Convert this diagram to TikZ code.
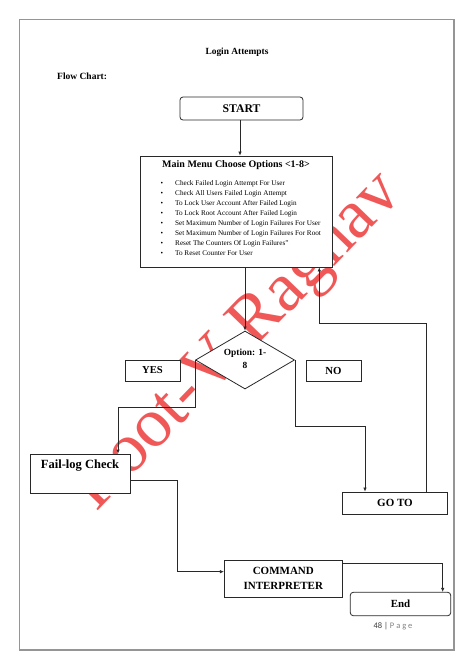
\documentclass[tikz,border=0pt]{standalone}
\usepackage{fontspec}
\setmainfont{Liberation Serif}
\newfontfamily\calib{Carlito}
\usetikzlibrary{shapes.geometric,arrows.meta,calc}
\definecolor{wm}{RGB}{240,88,88}
\definecolor{ln}{RGB}{40,40,40}
\definecolor{pg}{RGB}{130,130,130}
\begin{document}
\begin{tikzpicture}[x=1pt,y=-1pt,
  box/.style={draw=ln,line width=0.8pt,fill=white,inner sep=0pt},
  rbox/.style={box,rounded corners=3pt},
  arr/.style={draw=ln,line width=0.7pt,-{Latex[length=4pt,width=3.5pt]}},
  lab/.style={font=\bfseries\fontsize{#1}{#1}\selectfont,inner sep=0pt},
  itm/.style={font=\fontsize{7.2}{8}\selectfont,inner sep=0pt,anchor=base west}]
\useasboundingbox (0,0) rectangle (474,670);
\fill[white] (0,0) rectangle (474,670);
% watermark
\node[rotate=46,text=wm,font=\fontsize{70}{70}\selectfont,inner sep=0pt] (wmark) at (238,342) {Root-V Raghav};
% page frame
\draw[draw=pg!85,line width=1.5pt] (19.5,19.5) rectangle (454,650);
\node[lab=9.4] (title) at (237,52) {Login Attempts};
\node[lab=9.5,anchor=west] (fc) at (57,76) {Flow Chart:};
% boxes
\node[rbox,minimum width=123pt,minimum height=23pt,lab=11.7] (start) at (241.5,108.5) {START};
\node[box,minimum width=192pt,minimum height=111pt] (menu) at (236,211.5) {};
\node[lab=10] (menutitle) at (236,165) {Main Menu Choose Options <1-8>};
\foreach \t [count=\i] in {Check Failed Login Attempt For User,
  Check All Users Failed Login Attempt,
  To Lock User Account After Failed Login,
  To Lock Root Account After Failed Login,
  Set Maximum Number of Login Failures For User,
  Set Maximum Number of Login Failures For Root,
  Reset The Counters Of Login Failures”,
  To Reset Counter For User}{
  \node[itm] (item\i) at (175,{175.6+9.96*\i}) {\t};
  \node[itm,anchor=base] (bul\i) at (162,{175.6+9.96*\i}) {\textbullet};
}
\node[draw=ln,line width=0.8pt,fill=white,diamond,minimum width=99pt,minimum height=58pt,inner sep=0pt] (dia) at (245,360) {};
\node[font=\bfseries\fontsize{9.4}{13}\selectfont,align=center,inner sep=0pt] (opt) at (245,359) {Option: 1-\\8};
\node[box,minimum width=55pt,minimum height=21pt,lab=10.6] (yes) at (152.5,370.5) {YES};
\node[box,minimum width=55pt,minimum height=21pt,lab=10.8] (no) at (333.5,370.5) {NO};
\node[box,minimum width=100pt,minimum height=39pt] (fail) at (80,473.5) {};
\node[lab=12.5] (failtxt) at (80,466) {Fail-log Check};
\node[box,minimum width=105.5pt,minimum height=22pt,lab=11] (goto) at (395,503) {GO TO};
\node[box,minimum width=118pt,minimum height=37pt,font=\bfseries\fontsize{11}{14.7}\selectfont,align=center] (cmd) at (283.3,578.5) {COMMAND\\INTERPRETER};
\node[rbox,minimum width=100.4pt,minimum height=23.4pt,lab=10.9] (end) at (400.5,604) {End};
\node[font=\calib\fontsize{8.5}{9}\selectfont,text=ln!90,inner sep=0pt] (pgno) at (393,625.7) {48 | \textcolor{pg}{P a g e}};
% helper coordinates
\coordinate (ya) at (0,407);
\coordinate (yb) at (0,426.7);
\coordinate (yc) at (0,323.3);
% connectors
\draw[arr] ($(start.south)+(-1.5,0)$) -- ($(start.south |- menu.north)+(-1.5,0)$);
\draw[arr] (dia.north |- menu.south) -- (dia.north);
\draw[arr] (dia.west) -- (dia.west |- ya) -| ($(fail.north)+(38,0)$);
\draw[arr] (dia.east) -- (dia.east |- yb) -| ($(goto.north)+(-30,0)$);
\draw[arr] ($(goto.north)+(31,0)$) -- ($(goto.north |- yc)+(31,0)$) -| ($(menu.south)+(83.3,0)$);
\draw[arr] ($(fail.east)+(0,7.2)$) -- ++(47,0) |- ($(cmd.west)+(0,-6.8)$);
\draw[arr] ($(cmd.east)+(0,-15.2)$) -| ($(end.north)+(42.2,0)$);
\end{tikzpicture}
\end{document}
